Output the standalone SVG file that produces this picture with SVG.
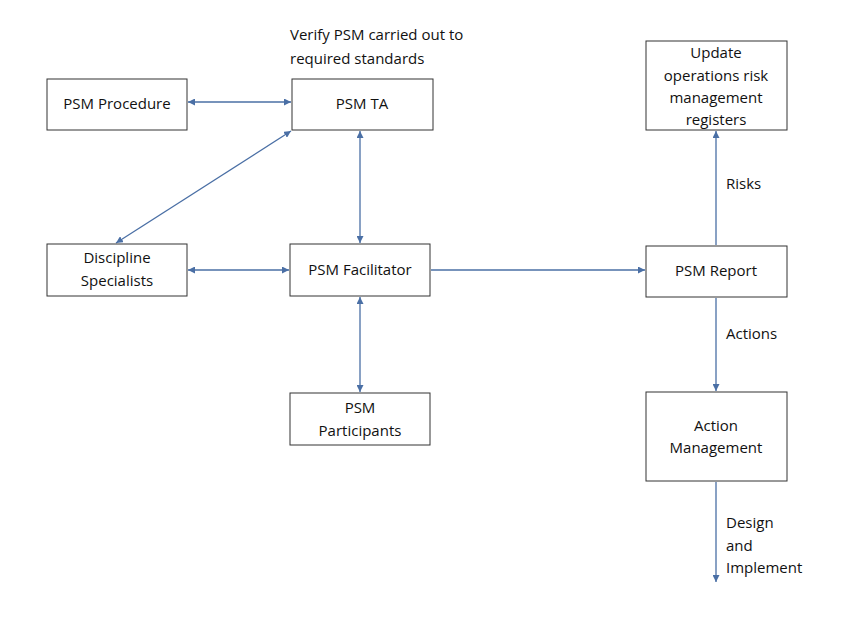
<svg xmlns="http://www.w3.org/2000/svg" width="862" height="617" viewBox="0 0 862 617">
<style>
rect{fill:#fff;stroke:#333;stroke-width:1}
text{font-family:"Open Sans","Liberation Sans",sans-serif;font-size:15px;fill:#111}
.c{text-anchor:middle}
#conn line{stroke:#4a6fa5;stroke-width:1.3;marker-end:url(#a)}
#conn line.b{marker-start:url(#s)}
</style>
<defs>
<marker id="a" viewBox="0 0 10 10" refX="10" refY="5" markerWidth="7" markerHeight="7" orient="auto" markerUnits="userSpaceOnUse"><path d="M0,0L10,5L0,10z" fill="#4a6fa5"/></marker>
<marker id="s" viewBox="0 0 10 10" refX="0" refY="5" markerWidth="7" markerHeight="7" orient="auto" markerUnits="userSpaceOnUse"><path d="M10,0L0,5L10,10z" fill="#4a6fa5"/></marker>
</defs>
<rect x="0" y="0" width="862" height="617" style="stroke:none"/>
<g id="conn">
<line class="b" x1="188" y1="102" x2="291" y2="102"/>
<line class="b" x1="291" y1="131" x2="116" y2="243"/>
<line class="b" x1="360" y1="131" x2="360" y2="243"/>
<line class="b" x1="188" y1="270" x2="289" y2="270"/>
<line x1="431" y1="270" x2="645" y2="270"/>
<line class="b" x1="360" y1="297" x2="360" y2="392"/>
<line x1="716" y1="245" x2="716" y2="131"/>
<line x1="716" y1="298" x2="716" y2="391"/>
<line x1="716" y1="482" x2="716" y2="582"/>
</g>
<g id="procedure"><rect x="47" y="79" width="140" height="51"/><text class="c" x="117" y="109">PSM Procedure</text></g>
<g id="ta"><rect x="292" y="79" width="141" height="51"/><text class="c" x="362" y="109">PSM TA</text></g>
<g id="specialists"><rect x="47" y="244" width="140" height="52"/><text class="c" x="117" y="263">Discipline</text><text class="c" x="117" y="286">Specialists</text></g>
<g id="facilitator"><rect x="290" y="244" width="140" height="52"/><text class="c" x="360" y="275">PSM Facilitator</text></g>
<g id="participants"><rect x="290" y="393" width="140" height="52"/><text class="c" x="360" y="413">PSM</text><text class="c" x="360" y="436">Participants</text></g>
<g id="update"><rect x="646" y="41" width="141" height="89"/><text class="c" x="716" y="58">Update</text><text class="c" x="716" y="81">operations risk</text><text class="c" x="716" y="103">management</text><text class="c" x="716" y="125">registers</text></g>
<g id="report"><rect x="646" y="246" width="141" height="51"/><text class="c" x="716" y="276">PSM Report</text></g>
<g id="action"><rect x="646" y="392" width="141" height="89"/><text class="c" x="716" y="431">Action</text><text class="c" x="716" y="453">Management</text></g>
<g id="labels">
<text x="290" y="40">Verify PSM carried out to</text>
<text x="290" y="64">required standards</text>
<text x="726" y="189">Risks</text>
<text x="726" y="339">Actions</text>
<text x="726" y="528">Design</text>
<text x="726" y="551">and</text>
<text x="726" y="573">Implement</text>
</g>
</svg>
